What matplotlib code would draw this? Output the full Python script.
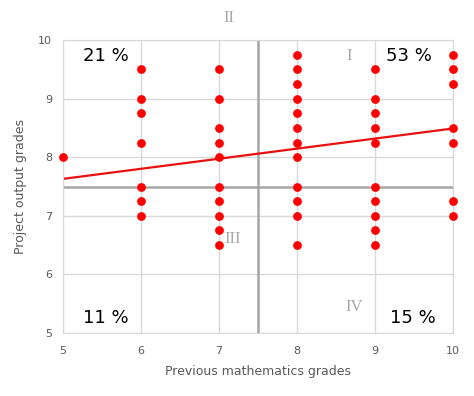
import numpy as np
import matplotlib
matplotlib.use("Agg")
import matplotlib.pyplot as plt

# Data: previous math grade (x) and project output grade (y)
x5 = [5]
y5 = [8]
x6_y = [9.5, 9, 8.75, 8.25, 7.5, 7.25, 7]
x7_y = [9.5, 9, 8.5, 8.25, 8, 7.5, 7.25, 7, 6.75, 6.5]
x8_y = [9.75, 9.5, 9.25, 9, 8.75, 8.5, 8.25, 8, 7.5, 7.25, 7, 6.5]
x9_y = [9.5, 9, 8.75, 8.5, 8.25, 7.5, 7.25, 7, 6.75, 6.5]
x10_y = [9.75, 9.5, 9.25, 8.5, 8.25, 7.25, 7]

# Trend line endpoints
trend_x = [5, 10]
trend_y = [7.63, 8.49]

groups = {5: y5, 6: x6_y, 7: x7_y, 8: x8_y, 9: x9_y, 10: x10_y}
xs = np.array([g for g, ys in groups.items() for _ in ys], dtype=float)
ys = np.array([v for g, vv in groups.items() for v in vv], dtype=float)

quadrant_pct = ["21 %", "53 %", "11 %", "15 %"]
quadrant_names = ["II", "I", "III", "IV"]
xticks = [5, 6, 7, 8, 9, 10]
yticks = [5, 6, 7, 8, 9, 10]

fig = plt.figure(figsize=(4.74, 3.96), dpi=100)
ax = fig.add_axes([63/474, 1-333/396, (453-63)/474, (333-40)/396])
ax.set_xlim(5, 10)
ax.set_ylim(5, 10)
ax.set_xticks(xticks)
ax.set_yticks(yticks)
ax.grid(True, color="#d9d9d9", linewidth=1.0)
ax.set_axisbelow(True)
for s in ax.spines.values():
    s.set_color("#d9d9d9")
ax.tick_params(length=0, colors="#595959", labelsize=8)
ax.tick_params(axis="x", pad=9)
ax.tick_params(axis="y", pad=8)

ax.axvline(7.5, color="#a6a6a6", linewidth=1.8, zorder=1.5)
ax.axhline(7.5, color="#a6a6a6", linewidth=1.8, zorder=1.5)

ax.scatter(xs, ys, s=40, color="#ff0000", zorder=3, clip_on=False, linewidths=0)

ax.plot(trend_x, trend_y, color="#e81010", linewidth=1.6, zorder=2)

ax.set_xlabel("Previous mathematics grades", color="#595959", fontsize=9, labelpad=7)
ax.set_ylabel("Project output grades", color="#595959", fontsize=9, labelpad=8)

fs = 13
ax.text(5.55, 9.72, quadrant_pct[0], fontsize=fs, ha="center", va="center", color="black")
ax.text(9.44, 9.72, quadrant_pct[1], fontsize=fs, ha="center", va="center", color="black")
ax.text(5.55, 5.25, quadrant_pct[2], fontsize=fs, ha="center", va="center", color="black")
ax.text(9.49, 5.25, quadrant_pct[3], fontsize=fs, ha="center", va="center", color="black")

rc = "#a6a6a6"
rf = "Liberation Serif"
ax.text(7.13, 10.38, quadrant_names[0], fontsize=12, ha="center", va="center", color=rc, family=rf)
ax.text(8.67, 9.73, quadrant_names[1], fontsize=12, ha="center", va="center", color=rc, family=rf)
ax.text(7.17, 6.6, quadrant_names[2], fontsize=12, ha="center", va="center", color=rc, family=rf)
ax.text(8.73, 5.45, quadrant_names[3], fontsize=12, ha="center", va="center", color=rc, family=rf)

fig.savefig("out.png", dpi=100)
